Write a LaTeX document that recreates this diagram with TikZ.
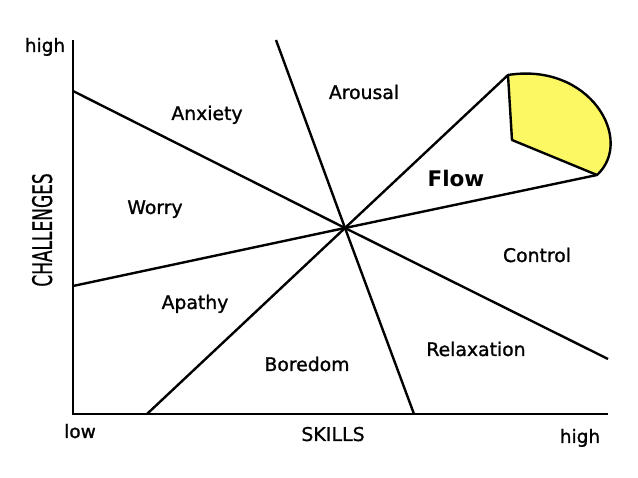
\documentclass[tikz,border=0pt]{standalone}
\usepackage{fontspec}
\setmainfont{DejaVu Sans}
\newfontfamily\lblfont[FakeBold=1.2]{DejaVu Sans}
\newfontfamily\axfont[FakeBold=0.6]{DejaVu Sans}
\definecolor{flowyellow}{RGB}{252,248,100}
\begin{document}
\begin{tikzpicture}[x=1pt,y=-1pt,
  ln/.style={line width=2.4pt,black},
  ax/.style={line width=2.8pt,black},
  lbl/.style={anchor=base,inner sep=0pt,font=\lblfont\fontsize{18.8}{22}\selectfont},
  axl/.style={anchor=base,inner sep=0pt,font=\lblfont\fontsize{18.5}{22}\selectfont}]
\useasboundingbox (0,0) rectangle (638,478);
% key points
\coordinate (O) at (345,228);
\coordinate (yTop) at (73,40);
\coordinate (orig) at (73,414);
\coordinate (xEnd) at (608,414);
\coordinate (a1) at (73,91);   \coordinate (b1) at (608,359);
\coordinate (a2) at (73,286);  \coordinate (b2) at (597,175);
\coordinate (a3) at (276,40);  \coordinate (b3) at (414,414);
\coordinate (a4) at (147,414); \coordinate (b4) at (508,75);
\coordinate (inner) at (512,140);
% yellow flow region
\filldraw[flowyellow, draw=black, line width=2.4pt, line join=round]
  (b4) -- (inner) -- (b2) .. controls (635,140) and (590,62) .. (b4) -- cycle;
% lines through centre
\draw[ln] (a1) -- (O) -- (b1);
\draw[ln] (a2) -- (O) -- (b2);
\draw[ln] (a3) -- (O) -- (b3);
\draw[ln] (a4) -- (O) -- (b4);
% axes
\draw[ax] (yTop) -- (orig) -- (xEnd);
% region labels
\node[lbl] (anx) at (207,120) {Anxiety};
\node[lbl] (aro) at (364,99) {Arousal};
\node[lbl] (wor) at (155,214) {Worry};
\node[lbl,font=\fontsize{21.5}{24}\selectfont\bfseries] (flo) at (456,187) {Flow};
\node[lbl] (con) at (537,262) {Control};
\node[lbl] (apa) at (195,309) {Apathy};
\node[lbl] (bor) at (307,371) {Boredom};
\node[lbl] (rel) at (476,356) {Relaxation};
% axis labels
\node[axl] (hiY) at (45,52) {high};
\node[axl] (lo) at (80,438) {low};
\node[axl] (hiX) at (580,443) {high};
\node[anchor=base,inner sep=0pt,font=\axfont\fontsize{19}{22}\selectfont] (sk) at (333,441) {SKILLS};
\node[anchor=base,inner sep=0pt,rotate=90,font=\axfont\fontsize{27}{30}\selectfont] (ch) at (52,230) {\scalebox{0.63}[1]{CHALLENGES}};
\end{tikzpicture}
\end{document}
